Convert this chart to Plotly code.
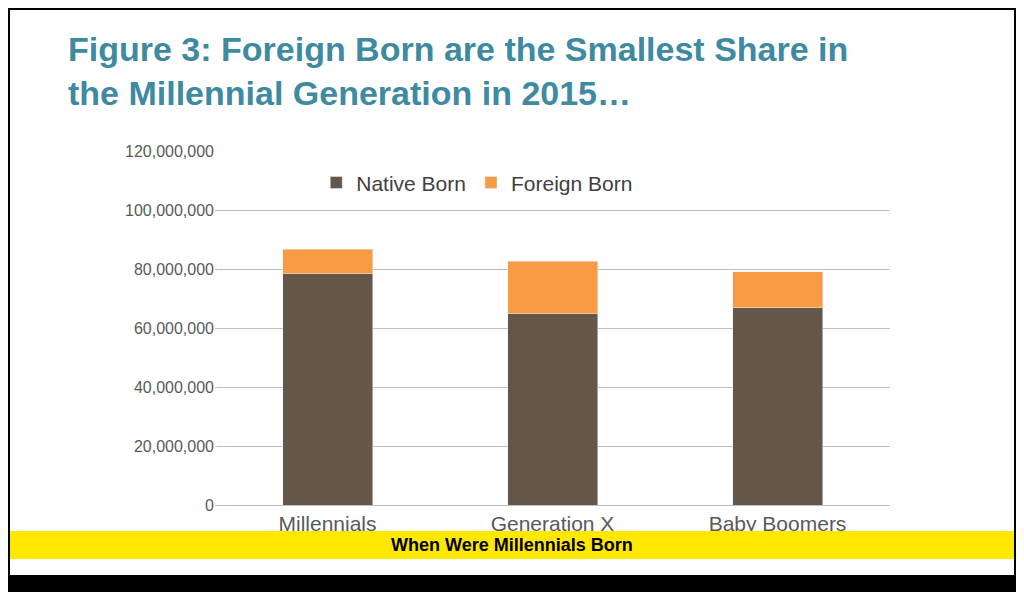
import plotly.graph_objects as go

generations = ["Millennials", "Generation X", "Baby Boomers"]
native_born = [78.6e6, 65.0e6, 67.0e6]
foreign_born = [8.3e6, 17.8e6, 12.3e6]
y_ticks = list(range(0, 120000001, 20000000))

# the page has an 8px body margin, so draw on a 1008x576 canvas shifted by 8px
OFF = 8
FW, FH = 1024 - OFF, 592 - OFF
# plot area in window pixels: x 215..890, y 151..505
L, R, T, B = 215 - OFF, 1024 - 890, 151 - OFF, 592 - 505
W, H = FW - L - R, FH - T - B


def px(x):
    return (x - OFF - L) / W


def py(y):
    return (FH - B - (y - OFF)) / H


fig = go.Figure()
fig.add_trace(go.Bar(x=generations, y=native_born, name="Native Born", marker_color="#645649"))
fig.add_trace(go.Bar(x=generations, y=foreign_born, name="Foreign Born", marker_color="#F79B45"))

fig.update_layout(
    barmode="stack",
    bargap=0.6,
    width=FW, height=FH,
    margin=dict(l=L, r=R, t=T, b=B),
    paper_bgcolor="black",
    plot_bgcolor="white",
    font=dict(family="Liberation Sans, Arial", color="#595959"),
    legend=dict(orientation="h", traceorder="normal", x=0.15, y=0.91, xanchor="left", yanchor="middle",
                font=dict(size=21, color="#404040"), bgcolor="rgba(0,0,0,0)"),
    xaxis=dict(tickfont=dict(size=21), showline=True, linecolor="#bfbfbf"),
    yaxis=dict(range=[0, 120.3e6], tickvals=y_ticks, tickformat=",d",
               tickfont=dict(size=16), gridcolor="#bfbfbf", zeroline=False),
    shapes=[
        dict(type="rect", xref="paper", yref="paper", x0=px(10), x1=px(1014),
             y0=py(575), y1=py(10), fillcolor="white", line_width=0, layer="below"),
        dict(type="rect", xref="paper", yref="paper", x0=px(10), x1=px(1014),
             y0=py(559), y1=py(531), fillcolor="#FFE800", line_width=0, layer="above"),
    ],
    annotations=[
        dict(xref="paper", yref="paper", x=px(66), y=py(28), xanchor="left", yanchor="top",
             align="left", showarrow=False,
             text="<b>Figure 3: Foreign Born are the Smallest Share in<br>the Millennial Generation in 2015…</b>",
             font=dict(size=34, color="#3E8AA1")),
        dict(xref="paper", yref="paper", x=px(512), y=py(545), xanchor="center", yanchor="middle",
             showarrow=False, text="<b>When Were Millennials Born</b>",
             font=dict(size=18, color="black")),
    ],
)

fig.write_html("out.html")
